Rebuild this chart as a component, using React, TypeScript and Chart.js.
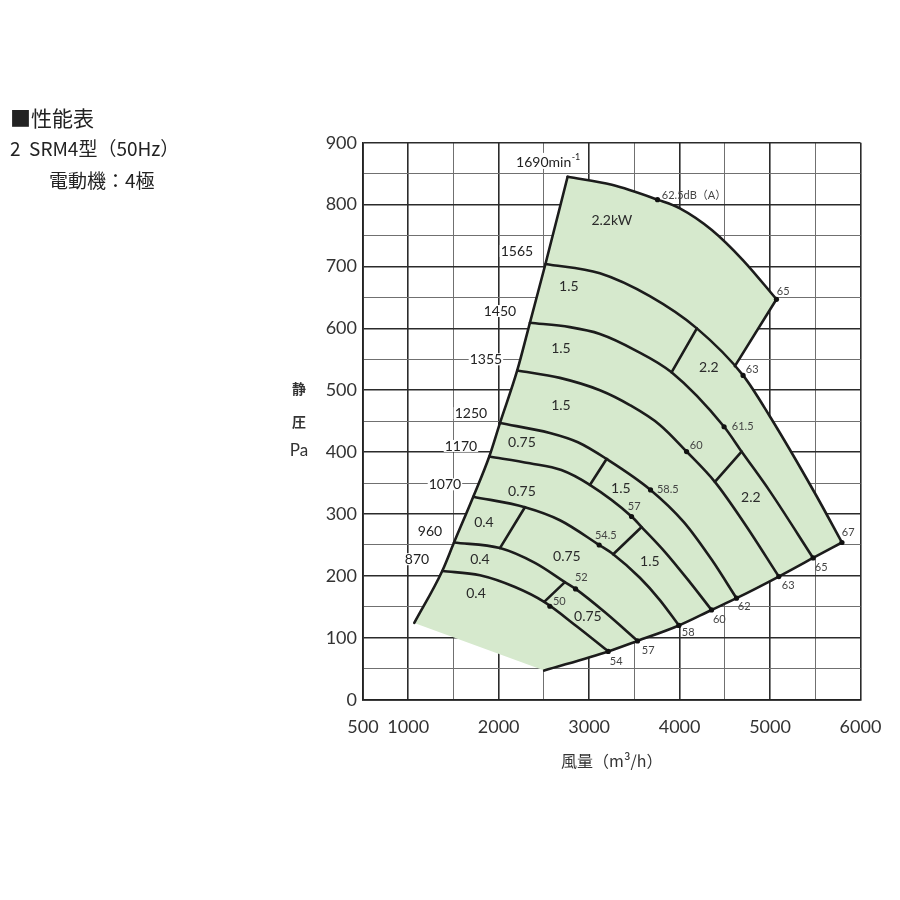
import React, { useEffect, useRef } from 'react';
import { Chart, registerables } from 'chart.js';

Chart.register(...registerables);

// ---------------- data (Q: m3/h, P: Pa) ----------------
const xTickLabels = [500, 1000, 2000, 3000, 4000, 5000, 6000];

const rpm1690Q = [2762, 3251, 3756, 4003, 4356, 4702, 5071];
const rpm1690P = [845, 832, 808, 794, 759, 710, 647];
const rpm1565Q = [2517, 3119, 3671, 4191, 4702, 4997, 5495, 5795];
const rpm1565P = [704, 689, 652, 600, 524, 458, 334, 254];
const rpm1450Q = [2345, 2787, 3119, 3506, 3911, 4492, 4685, 4997, 5476];
const rpm1450P = [609, 602, 591, 565, 529, 441, 401, 337, 229];
const rpm1355Q = [2205, 2677, 3119, 3450, 3782, 4077, 4390, 4721, 5097];
const rpm1355P = [532, 520, 500, 476, 444, 401, 352, 284, 199];
const rpm1250Q = [2014, 2566, 2876, 3193, 3679, 4047, 4356, 4629];
const rpm1250P = [447, 431, 416, 389, 339, 287, 226, 164];
const rpm1170Q = [1896, 2345, 2693, 3008, 3469, 3580, 3837, 4113, 4353];
const rpm1170P = [393, 382, 371, 347, 296, 279, 239, 190, 145];
const rpm1070Q = [1719, 2290, 2677, 3111, 3266, 3561, 3782, 3992];
const rpm1070P = [328, 311, 290, 250, 235, 197, 161, 120];
const rpm960Q = [1506, 2014, 2401, 2732, 2850, 3185, 3535];
const rpm960P = [254, 245, 221, 190, 179, 140, 95];
const rpm870Q = [1376, 1793, 2180, 2503, 2876, 3211];
const rpm870P = [208, 201, 182, 158, 117, 78];

// surge (left) boundary and outlet (bottom) boundary
const surgeQ = [1067, 1376, 1506, 1719, 1896, 2014, 2205, 2345, 2517, 2762];
const surgeP = [124, 208, 254, 328, 393, 447, 532, 609, 704, 845];
const outletQ = [2503, 3211, 3535, 3992, 4353, 4629, 5097, 5476, 5795];
const outletP = [47, 78, 95, 120, 145, 164, 199, 229, 254];
// limit line from 1690 end down to the 1565 curve
const limitQ = [5071, 4611];
const limitP = [647, 539];

// motor power boundaries (short segments between curves)
const kwBoundQ = [[4191, 3911], [4685, 4390], [3193, 3008], [3580, 3266], [2290, 2014], [2732, 2503]];
const kwBoundP = [[600, 529], [401, 352], [389, 347], [279, 235], [311, 245], [190, 158]];

// noise points
const dbPointQ = [3756, 5071, 4702, 4492, 4077, 3679, 3469, 3111, 2850, 2566, 3211, 3535, 3992, 4353, 4629, 5097, 5476, 5795];
const dbPointP = [808, 647, 524, 441, 401, 339, 296, 250, 179, 151, 78, 95, 120, 145, 164, 199, 229, 254];

// annotations
const rpmNames = ['1565', '1450', '1355', '1250', '1170', '1070', '960', '870'];
const rpmNameQ = [2202, 2014, 1859, 1693, 1583, 1406, 1240, 1097];
const rpmNameP = [725, 628, 550, 463, 410, 348, 273, 227];
const topRpmName = '1690min';
const topRpmQ = 2544;
const topRpmP = 869;

const kwText = ['2.2kW', '1.5', '1.5', '1.5', '0.75', '0.75', '0.4', '0.4', '0.4', '0.75', '0.75', '1.5', '1.5', '2.2', '2.2'];
const kwQ = [3251, 2776, 2688, 2688, 2257, 2257, 1837, 1793, 1749, 2754, 2986, 3671, 3351, 4323, 4787];
const kwP = [775, 668, 568, 476, 416, 336, 287, 227, 171, 231, 134, 224, 342, 536, 327];

const dbText = ['62.5dB（A）', '65', '63', '61.5', '60', '58.5', '57', '54.5', '52', '50', '54', '57', '58', '60', '62', '63', '65', '67'];
const dbTextQ = [3804, 5075, 4732, 4577, 4113, 3749, 3428, 3064, 2843, 2600, 3229, 3583, 4025, 4368, 4644, 5130, 5495, 5793];
const dbTextP = [815, 659, 533, 441, 411, 340, 313, 266, 197, 158, 61, 80, 108, 129, 150, 185, 214, 271];

const yTitle = ['静', '圧', 'Pa'];
const yTitleP = [502, 450, 402];

// ---------------- helpers ----------------
const pts = (q: number[], p: number[]) => q.map((v, i) => ({ x: v, y: p[i] }));
const LINE = '#1c1c1c';
const FILL = 'rgb(214,233,205)';

const curve = (q: number[], p: number[]) => ({
  data: pts(q, p),
  showLine: true,
  borderColor: LINE,
  borderWidth: 2.6,
  borderCapStyle: 'round',
  pointRadius: 0,
  cubicInterpolationMode: 'monotone',
  fill: false,
  order: 1,
});
const straight = (q: number[], p: number[]) => ({ ...curve(q, p), cubicInterpolationMode: 'default', tension: 0 });

const labelPlugin = {
  id: 'fanLabels',
  afterDraw(chart: any) {
    const ctx = chart.ctx;
    const xs = chart.scales.x;
    const ys = chart.scales.y;
    const px = (q: number) => xs.getPixelForValue(q);
    const py = (p: number) => ys.getPixelForValue(p);
    ctx.save();
    ctx.textBaseline = 'middle';

    // rpm labels with white background
    ctx.font = '14px Lato';
    ctx.textAlign = 'center';
    rpmNames.forEach((t, i) => {
      const x = px(rpmNameQ[i]);
      const y = py(rpmNameP[i]);
      const w = ctx.measureText(t).width;
      ctx.fillStyle = '#fff';
      ctx.fillRect(x - w / 2 - 1, y - 6, w + 2, 12);
      ctx.fillStyle = '#222';
      ctx.fillText(t, x, y + 0.5);
    });
    // top rpm label with superscript
    {
      const x = px(topRpmQ);
      const y = py(topRpmP);
      ctx.font = '14px Lato';
      const w1 = ctx.measureText(topRpmName).width;
      ctx.font = '9px Lato';
      const w2 = ctx.measureText('-1').width;
      const x0 = x - (w1 + w2) / 2;
      ctx.fillStyle = '#fff';
      ctx.fillRect(x0 - 1, y - 9, w1 + w2 + 2, 16);
      ctx.fillStyle = '#222';
      ctx.textAlign = 'left';
      ctx.font = '14px Lato';
      ctx.fillText(topRpmName, x0, y + 0.5);
      ctx.font = '9px Lato';
      ctx.fillText('-1', x0 + w1 + 0.5, y - 5);
    }
    // power labels
    ctx.font = '14px Lato';
    ctx.textAlign = 'center';
    ctx.fillStyle = '#2a2a2a';
    kwText.forEach((t, i) => ctx.fillText(t, px(kwQ[i]), py(kwP[i])));
    // noise labels
    ctx.font = '11px Lato, "Noto Sans CJK JP"';
    ctx.textAlign = 'left';
    ctx.fillStyle = '#444';
    dbText.forEach((t, i) => ctx.fillText(t, px(dbTextQ[i]), py(dbTextP[i])));
    // y axis title (stacked)
    ctx.textAlign = 'center';
    ctx.fillStyle = '#333';
    yTitle.forEach((t, i) => {
      ctx.font = i < 2 ? 'bold 14px "Noto Sans CJK JP"' : '17px Lato';
      ctx.fillText(t, chart.chartArea.left - 64, py(yTitleP[i]));
    });
    ctx.restore();
  },
};

export default function App() {
  const ref = useRef<HTMLCanvasElement | null>(null);

  useEffect(() => {
    if (!ref.current) return;
    const outline = [
      ...pts(surgeQ, surgeP),
      ...pts(rpm1690Q, rpm1690P).slice(1),
      ...pts(limitQ, limitP).slice(1),
      ...pts(rpm1565Q, rpm1565P).filter((pt) => pt.x > limitQ[1]),
      ...pts(outletQ, outletP).reverse().slice(1),
    ];
    const datasets: any[] = [
      {
        data: outline,
        showLine: true,
        borderWidth: 0,
        borderColor: 'rgba(0,0,0,0)',
        backgroundColor: FILL,
        pointRadius: 0,
        tension: 0,
        fill: 'shape',
        order: 10,
      },
      curve(rpm1690Q, rpm1690P),
      curve(rpm1565Q, rpm1565P),
      curve(rpm1450Q, rpm1450P),
      curve(rpm1355Q, rpm1355P),
      curve(rpm1250Q, rpm1250P),
      curve(rpm1170Q, rpm1170P),
      curve(rpm1070Q, rpm1070P),
      curve(rpm960Q, rpm960P),
      curve(rpm870Q, rpm870P),
      curve(surgeQ, surgeP),
      curve(outletQ, outletP),
      straight(limitQ, limitP),
      ...kwBoundQ.map((q, i) => straight(q, kwBoundP[i])),
      {
        data: pts(dbPointQ, dbPointP),
        showLine: false,
        pointRadius: 2.6,
        pointStyle: 'circle',
        pointBackgroundColor: '#111',
        pointBorderWidth: 0,
        order: 0,
      },
    ];

    const majorX = (v: number) => v % 1000 === 0 || v === 500;
    const chart = new Chart(ref.current, {
      type: 'scatter',
      data: { datasets },
      options: {
        responsive: false,
        animation: false,
        events: [],
        layout: { padding: { top: 142.7, right: 39.5, left: 0, bottom: 0 } },
        plugins: { legend: { display: false }, tooltip: { enabled: false } },
        scales: {
          x: {
            type: 'linear',
            min: 500,
            max: 6000,
            z: 1,
            afterFit: (s: any) => {
              s.height = 200.3;
            },
            ticks: {
              stepSize: 500,
              autoSkip: false,
              maxRotation: 0,
              padding: 17,
              color: '#333',
              font: { size: 18, family: 'Lato' },
              callback: (v: any) => (xTickLabels.includes(Number(v)) ? String(v) : ''),
            },
            grid: {
              drawTicks: false,
              color: (c: any) => (c.tick && majorX(c.tick.value) ? '#2b2b2b' : '#707070'),
              lineWidth: (c: any) => (c.tick && majorX(c.tick.value) ? 1.6 : 1),
            },
            border: { color: '#222', width: 1.8 },
            title: {
              display: true,
              text: '風量（m³/h）',
              color: '#333',
              font: { size: 16, family: '"Noto Sans CJK JP"' },
              padding: { top: 0, bottom: 129 },
            },
          },
          y: {
            type: 'linear',
            min: 0,
            max: 900,
            z: 1,
            afterFit: (s: any) => {
              s.width = 363;
            },
            ticks: {
              stepSize: 50,
              padding: 6,
              color: '#333',
              font: { size: 18, family: 'Lato' },
              callback: (v: any) => (Number(v) % 100 === 0 ? String(v) : ''),
            },
            grid: {
              drawTicks: false,
              color: (c: any) => (c.tick && c.tick.value % 100 === 0 ? '#2b2b2b' : '#707070'),
              lineWidth: (c: any) => (c.tick && c.tick.value % 100 === 0 ? 1.6 : 1),
            },
            border: { color: '#222', width: 1.8 },
          },
        },
      } as any,
      plugins: [labelPlugin],
    });
    return () => chart.destroy();
  }, []);

  const cjk = '"Noto Sans CJK JP", sans-serif';
  return (
    <div style={{ position: 'absolute', left: 0, top: 0, width: 900, height: 900, background: '#fff' }}>
      <canvas ref={ref} width={900} height={900} style={{ position: 'absolute', left: 0, top: 0, display: 'block' }} />
      <div style={{ position: 'absolute', left: 10, top: 106, fontFamily: cjk, fontSize: 21, lineHeight: '22px', color: '#222', whiteSpace: 'nowrap' }}>
        ■性能表
      </div>
      <div style={{ position: 'absolute', left: 10, top: 138, fontFamily: cjk, fontSize: 19, lineHeight: '20px', color: '#222', whiteSpace: 'pre' }}>
        {'2  SRM4型（50Hz）'}
      </div>
      <div style={{ position: 'absolute', left: 49, top: 170, fontFamily: cjk, fontSize: 19, lineHeight: '20px', color: '#222', whiteSpace: 'nowrap' }}>
        電動機：4極
      </div>
    </div>
  );
}
